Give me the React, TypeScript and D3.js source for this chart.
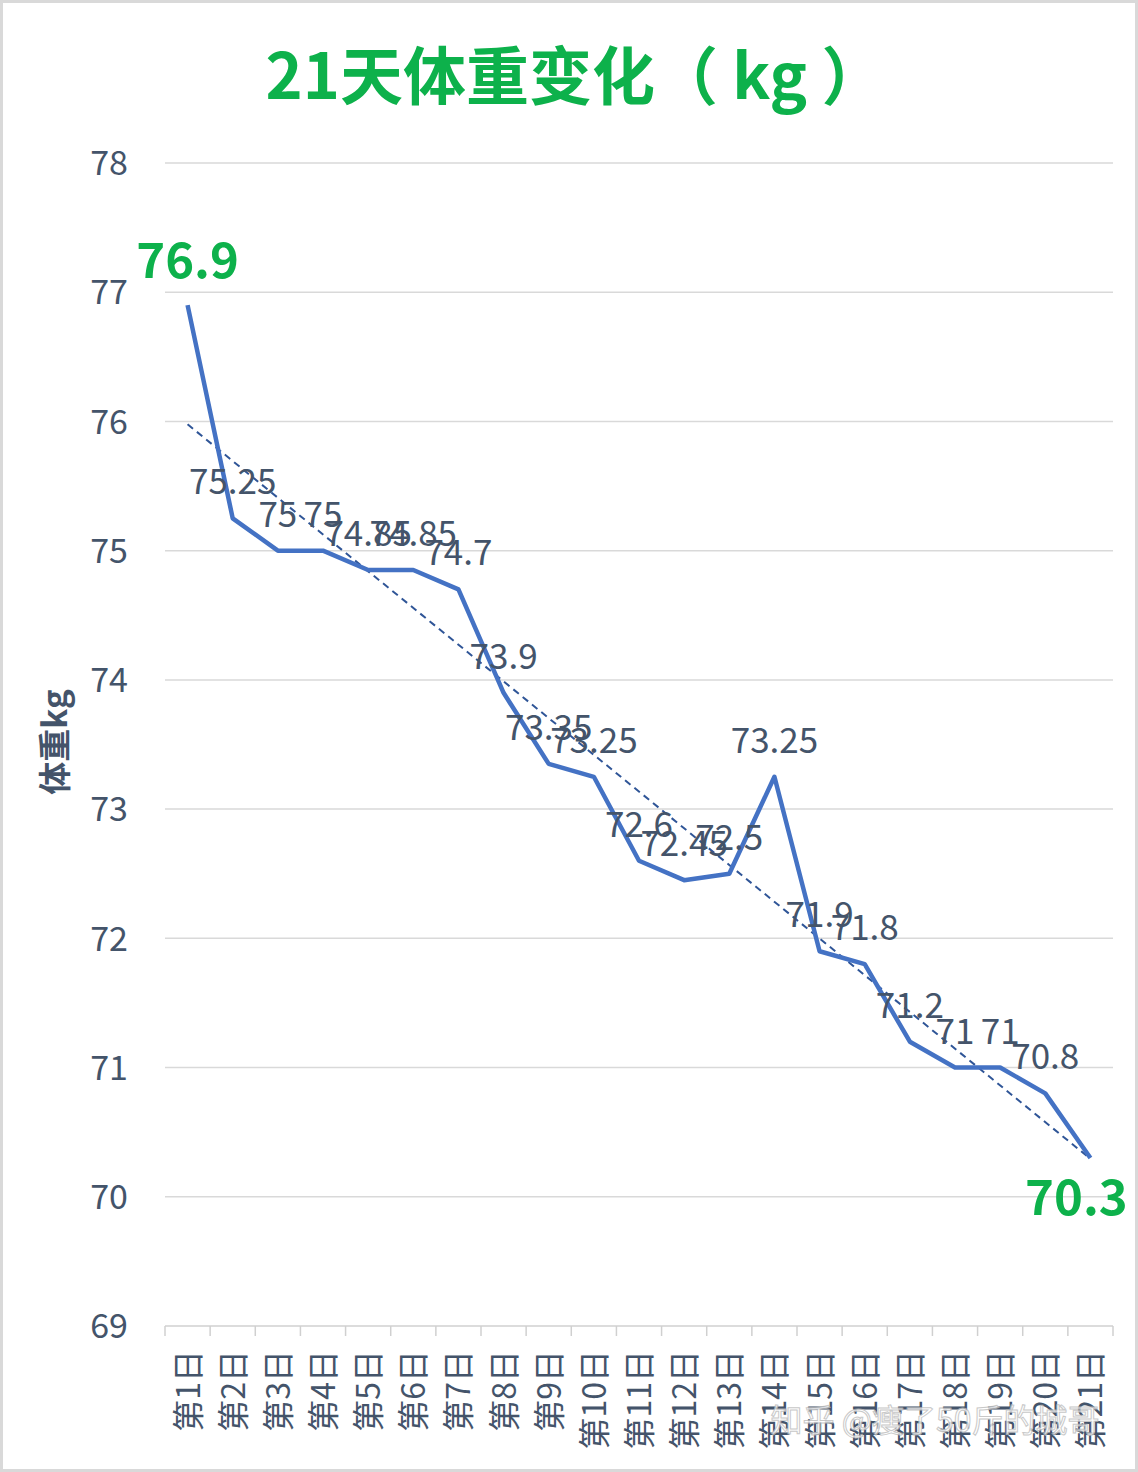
import React from "react";
import * as d3 from "d3";

const days: string[] = ["第1日","第2日","第3日","第4日","第5日","第6日","第7日","第8日","第9日","第10日","第11日","第12日","第13日","第14日","第15日","第16日","第17日","第18日","第19日","第20日","第21日"];
const weights: number[] = [76.9, 75.25, 75, 75, 74.85, 74.85, 74.7, 73.9, 73.35, 73.25, 72.6, 72.45, 72.5, 73.25, 71.9, 71.8, 71.2, 71, 71, 70.8, 70.3];
const yTicks: number[] = [69, 70, 71, 72, 73, 74, 75, 76, 77, 78];
const title = "21天体重变化（ kg ）";
const yTitle = "体重kg";
const watermark = "知乎 @瘦了50斤的城哥";

const W = 1138, H = 1472;
const left = 165, right = 1113, top = 163, bottom = 1326;
const FONT = "'Noto Sans CJK SC', 'Noto Sans', sans-serif";
const TXT = "#44546A";
const BLUE = "#4472C4";
const GREEN = "#0DB14B";

export default function App() {
  const x = d3.scaleBand<string>().domain(days).range([left, right]).padding(0);
  const y = d3.scaleLinear().domain([69, 78]).range([bottom, top]);
  const cx = (d: string) => (x(d) as number) + x.bandwidth() / 2;

  const line = d3.line<number>().x((_, i) => cx(days[i])).y(v => y(v));

  // linear regression trendline
  const n = weights.length;
  const xs = weights.map((_, i) => i + 1);
  const mx = d3.mean(xs) as number;
  const my = d3.mean(weights) as number;
  const slope = d3.sum(xs.map((xi, i) => (xi - mx) * (weights[i] - my))) / d3.sum(xs.map(xi => (xi - mx) ** 2));
  const intercept = my - slope * mx;
  const t0 = intercept + slope * 1;
  const t1 = intercept + slope * n;

  return (
    <svg width={W} height={H} style={{ position: "absolute", left: 0, top: 0, background: "#fff" }} fontFamily={FONT}>
      <rect x={1.5} y={1.5} width={W - 3} height={H - 3} fill="#fff" stroke="#d9d9d9" strokeWidth={3} />
      <text x={575} y={99} textAnchor="middle" fontSize={63} fontWeight={700} fill={GREEN}>{title}</text>

      {yTicks.map(t => (
        <g key={t}>
          {t !== 69 && <line x1={left} x2={right} y1={y(t)} y2={y(t)} stroke="#d9d9d9" strokeWidth={1.5} />}
          <text x={128} y={y(t)} dy="0.36em" textAnchor="end" fontSize={34} fill={TXT}>{t}</text>
        </g>
      ))}

      <line x1={left} x2={right} y1={bottom} y2={bottom} stroke="#d0d0d0" strokeWidth={1.5} />
      {d3.range(days.length + 1).map(i => {
        const xx = left + i * x.bandwidth();
        return <line key={i} x1={xx} x2={xx} y1={bottom} y2={bottom + 10} stroke="#d0d0d0" strokeWidth={1.5} />;
      })}
      {days.map(d => (
        <text key={d} transform={`translate(${cx(d) + 12},1350) rotate(-90)`} textAnchor="end" fontSize={32} fill={TXT}>{d}</text>
      ))}

      <text transform={`translate(67,742) rotate(-90)`} textAnchor="middle" fontSize={33} fontWeight={700} fill={TXT}>{yTitle}</text>

      <line x1={cx(days[0])} y1={y(t0)} x2={cx(days[n - 1])} y2={y(t1)} stroke="#2F5597" strokeWidth={2} strokeDasharray="7,5" />
      <path d={line(weights) as string} fill="none" stroke={BLUE} strokeWidth={4.5} strokeLinejoin="round" />

      {weights.map((v, i) => {
        if (i === 0) {
          return <text key={i} x={cx(days[i])} y={y(v) - 27} textAnchor="middle" fontSize={49} fontWeight={700} fill={GREEN}>{v}</text>;
        }
        if (i === n - 1) {
          return <text key={i} x={cx(days[i]) - 14} y={y(v) + 57} textAnchor="middle" fontSize={49} fontWeight={700} fill={GREEN}>{v}</text>;
        }
        return <text key={i} x={cx(days[i])} y={y(v) - 24} textAnchor="middle" fontSize={35} fill={TXT}>{v}</text>;
      })}

      <text x={935} y={1432} textAnchor="middle" fontSize={32} fill="#fff" stroke="#bbb" strokeWidth={1} opacity={0.8}>{watermark}</text>
    </svg>
  );
}
